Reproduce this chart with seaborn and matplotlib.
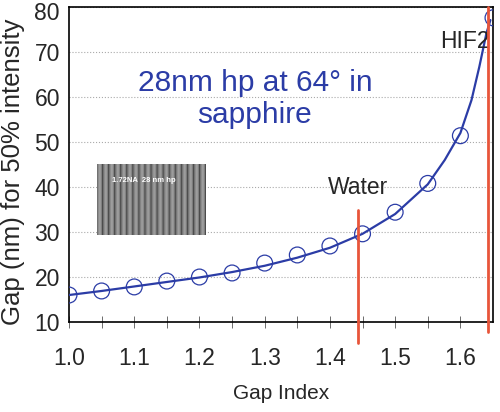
import numpy as np
import pandas as pd
import matplotlib
matplotlib.use("Agg")
import matplotlib.pyplot as plt
import matplotlib.transforms as mtrans
import seaborn as sns

# values
gap_index = [1.00, 1.05, 1.10, 1.15, 1.20, 1.25, 1.30, 1.35, 1.40, 1.45, 1.50, 1.55, 1.60, 1.65]
gap_nm = [16.0, 16.9, 17.8, 19.1, 20.0, 20.9, 23.1, 24.9, 26.9, 29.6, 34.4, 40.8, 51.4, 77.6]
curve_x = [1.00, 1.05, 1.10, 1.15, 1.20, 1.25, 1.30, 1.35, 1.40, 1.45, 1.50, 1.55,
           1.576, 1.60, 1.617, 1.629, 1.640, 1.646]
curve_y = [16.0, 16.9, 17.9, 18.9, 19.9, 21.1, 22.5, 24.3, 26.5, 29.6, 34.0, 40.6,
           46.0, 52.0, 59.3, 66.7, 74.2, 77.1]
xticks = [1.0, 1.1, 1.2, 1.3, 1.4, 1.5, 1.6]
yticks = [10, 20, 30, 40, 50, 60, 70, 80]
fluid_names = ["Water", "HIF2"]
fluid_index = [1.4425, 1.6425]

blue = "#2B3CA6"
red = "#E8553A"

pts = pd.DataFrame({"Gap Index": gap_index, "gap": gap_nm})
fit = pd.DataFrame({"Gap Index": curve_x, "gap": curve_y})

sns.set_style("white")
plt.rcParams["font.family"] = ["Liberation Sans", "DejaVu Sans"]

fig = plt.figure(figsize=(5, 4.12), dpi=100)
ax = fig.add_axes([0.138, 0.2184, 0.848, 0.7646])

sns.lineplot(data=fit, x="Gap Index", y="gap", ax=ax, color=blue, lw=1.6,
             sort=False, zorder=3)
sns.scatterplot(data=pts, x="Gap Index", y="gap", ax=ax, s=130, facecolor="none",
                edgecolor=blue, linewidth=0.9, zorder=4)

ax.set_xlim(1.0, 1.65)
ax.set_ylim(10, 80)
ax.set_xticks(xticks)
ax.set_xticklabels([f"{t:.1f}" for t in xticks])
ax.set_xticks(np.arange(1.05, 1.65, 0.1), minor=True)
ax.set_yticks(yticks)
ax.tick_params(axis="x", which="both", direction="inout", length=8, width=0.6,
               color="#555555", labelsize=16.5, pad=14, bottom=True)
ax.tick_params(axis="y", labelsize=16.5, left=False, pad=3)
# the top label sits a little below its gridline in the reference
top_lbl = ax.get_yticklabels()[-1]
top_lbl.set_transform(top_lbl.get_transform() +
                      mtrans.ScaledTranslation(0, -3 / 72, fig.dpi_scale_trans))
ax.yaxis.grid(True, ls=":", color="#aaaaaa", lw=0.8)
for s in ax.spines.values():
    s.set_color("black")
    s.set_linewidth(1.2)

ax.set_xlabel("Gap Index", fontsize=15, labelpad=10)
ax.set_ylabel("Gap (nm) for 50% intensity", fontsize=18.5)
ax.yaxis.set_label_coords(-0.104, 0.478)

# refractive index markers
ax.plot([fluid_index[0]] * 2, [5.3, 35], color=red, lw=2, clip_on=False, zorder=5)
ax.plot([fluid_index[1]] * 2, [7.8, 80], color=red, lw=2, clip_on=False, zorder=5)
ax.text(1.4425, 39.8, fluid_names[0], fontsize=16.5, ha="center", va="center")
ax.text(1.607, 72.3, fluid_names[1], fontsize=16.5, ha="center", va="center")

ax.text(1.285, 59.5, "28nm hp at 64° in\nsapphire", color=blue, fontsize=21.5,
        ha="center", va="center", linespacing=1.2)

# SEM inset (decorative stripes)
iax = fig.add_axes([97 / 500, (412 - 235) / 412, 108 / 500, 71 / 412])
stripe = np.array([0.45, 0.55, 0.62, 0.6, 0.5, 0.3])
img = np.tile(stripe, (71, 18))
iax.imshow(img, cmap="gray", vmin=0, vmax=1, aspect="auto")
iax.axis("off")
iax.text(0.14, 0.77, "1.72NA  28 nm hp", color="white", fontsize=5.5, va="center",
         transform=iax.transAxes, fontweight="bold")

fig.savefig("out.png", dpi=100)
